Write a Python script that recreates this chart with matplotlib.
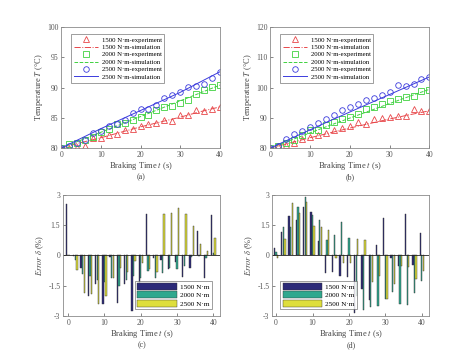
import matplotlib
matplotlib.use("Agg")
import matplotlib.pyplot as plt
import numpy as np

plt.rcParams['font.family'] = ['Liberation Serif', 'DejaVu Serif']
plt.rcParams['mathtext.fontset'] = 'stix'

# ---------------- data ----------------
t_exp = [0, 2, 4, 6, 8, 10, 12, 14, 16, 18, 20, 22, 24, 26, 28, 30, 32, 34, 36, 38, 40]
t_sim = [0, 5, 10, 15, 20, 25, 30, 35, 40]

# panel (a)
a_exp_1500 = [80.0, 80.0, 80.1, 80.4, 81.6, 81.7, 82.1, 82.4, 82.9, 83.1, 83.6, 84.0, 84.2, 84.7, 84.5, 85.5, 85.4, 86.3, 86.2, 86.4, 86.7]
a_exp_2000 = [80.0, 80.6, 80.8, 81.4, 81.8, 82.6, 83.1, 83.9, 84.2, 84.6, 85.1, 85.5, 86.3, 86.7, 86.9, 87.5, 88.0, 89.0, 89.6, 90.1, 90.4]
a_exp_2500 = [80.0, 80.3, 80.8, 81.4, 82.5, 82.8, 83.7, 83.9, 84.7, 85.8, 86.5, 86.4, 87.1, 88.3, 88.8, 89.3, 90.1, 90.2, 90.6, 91.5, 92.6]
a_sim_1500 = [80.0, 80.9, 81.7, 82.6, 83.5, 84.3, 85.1, 86.0, 86.8]
a_sim_2000 = [80.0, 81.3, 82.6, 83.9, 85.2, 86.5, 87.8, 89.1, 90.4]
a_sim_2500 = [80.0, 81.6, 83.2, 84.7, 86.2, 87.7, 89.2, 90.9, 92.6]

# panel (b)
b_exp_1500 = [80.0, 80.6, 81.0, 81.8, 82.9, 83.6, 84.2, 85.0, 85.8, 86.5, 87.4, 88.5, 88.0, 89.5, 89.8, 90.2, 90.6, 90.5, 93.0, 92.1, 92.2]
b_exp_2000 = [80.0, 80.7, 81.8, 82.6, 84.2, 85.8, 86.1, 87.7, 88.5, 89.7, 90.4, 91.2, 92.8, 93.6, 94.7, 95.4, 96.2, 96.9, 97.1, 98.7, 99.3]
b_exp_2500 = [80.0, 80.7, 82.9, 84.5, 85.6, 86.9, 88.3, 89.6, 91.0, 92.5, 93.6, 94.7, 95.8, 96.5, 97.5, 98.5, 100.7, 100.6, 101.0, 102.7, 103.5]
b_sim_1500 = [80.0, 81.7, 83.4, 85.0, 86.6, 88.1, 89.6, 91.0, 92.3]
b_sim_2000 = [80.0, 82.5, 85.0, 87.5, 89.9, 92.3, 94.7, 97.1, 99.4]
b_sim_2500 = [80.0, 83.0, 86.0, 89.0, 91.9, 94.8, 97.7, 100.6, 103.5]

# panel (c) errors
c_err_1500 = [2.55, -0.05, -0.6, -2.0, -1.4, -2.4, -0.1, -2.35, -1.4, -2.75, -1.4, 2.05, -0.15, -0.25, -0.65, -0.35, -1.05, -0.6, 1.2, -1.1, 2.0]
c_err_2000 = [0.0, -0.25, -0.9, -1.0, -1.2, -1.3, -1.1, -1.5, -1.2, -1.0, -1.1, -0.75, -1.1, -0.85, -0.6, -0.65, -0.5, -0.1, -0.05, -0.15, 0.1]
c_err_2500 = [0.0, -0.7, -1.85, -1.9, -2.4, -2.0, -1.1, -0.6, -0.8, -0.3, -0.4, -0.65, -0.8, 2.05, 2.1, 2.35, 2.05, 1.45, 0.55, 0.2, 0.85]

# panel (d) errors
d_err_1500 = [0.35, 1.15, 1.95, 1.75, 2.4, 2.15, 0.7, -0.85, -0.8, -1.0, -1.05, -2.85, -1.65, -2.2, 0.5, 1.85, -0.15, -0.5, 2.05, -0.45, 1.1]
d_err_2000 = [0.15, 1.4, 1.4, 2.4, 2.9, 2.0, 1.75, 0.75, 1.0, 1.65, 0.85, -2.0, -2.7, -2.55, -2.5, -2.15, -1.8, -2.4, -2.45, -1.85, -1.25]
d_err_2500 = [-0.15, 0.8, 2.6, 2.1, 2.65, 1.45, 1.4, 1.25, -0.15, -0.4, -0.4, 0.8, 0.75, -1.3, -1.0, -2.15, -1.4, -0.5, -0.55, -1.15, -0.75]

loads = ['1500 N·m', '2000 N·m', '2500 N·m']

# ---------------- style ----------------
FS = 5.5
red, green, blue = '#e8474a', '#3fd13f', '#3b3bdd'
bar_cols = ['#2c2a78', '#30a88e', '#dede3c']
frame_col = '#8a8a8a'

fig = plt.figure(figsize=(4.74, 3.55), dpi=100)

def style_axes(ax):
    for s in ax.spines.values():
        s.set_color(frame_col)
        s.set_linewidth(0.6)
    ax.tick_params(direction='in', length=2, width=0.5, labelsize=FS,
                   colors='#555555', pad=2, top=False, right=False)
    ax.xaxis.label.set_color('#444444')
    ax.yaxis.label.set_color('#444444')

def caption(ax, cap):
    ax.text(0.5, -0.21, cap, transform=ax.transAxes, ha='center', va='top',
            fontsize=FS + 0.3, color='#444444')

def temp_panel(rect, exps, sims, ylim, yticks, cap):
    ax = fig.add_axes(rect)
    cols = [red, green, blue]
    mks = ['^', 's', 'o']
    lss = ['-.', '--', '-']
    for i in range(3):
        ax.plot(t_exp, exps[i], linestyle='none', marker=mks[i], ms=4.0 if i else 4.4,
                mfc='none', mec=cols[i], mew=0.6, label=f'{loads[i]}-experiment')
        ax.plot(t_sim, sims[i], linestyle=lss[i], color=cols[i], lw=0.7,
                label=f'{loads[i]}-simulation')
    ax.set_xlim(0, 40)
    ax.set_ylim(*ylim)
    ax.set_xticks([0, 10, 20, 30, 40])
    ax.set_yticks(yticks)
    ax.set_xlabel('Braking Time $\\it{t}$ (s)', fontsize=FS + 0.5, labelpad=1.0)
    ax.set_ylabel('Temperature $\\it{T}$ (°C)', fontsize=FS + 0.5, labelpad=1.5)
    style_axes(ax)
    leg = ax.legend(loc='upper left', fontsize=FS - 0.6, frameon=True, fancybox=False,
                    edgecolor='#555555', handlelength=3.6, borderpad=0.4,
                    labelspacing=0.25, handletextpad=0.5, bbox_to_anchor=(0.04, 0.97))
    leg.get_frame().set_linewidth(0.5)
    caption(ax, cap)
    return ax

def err_panel(rect, errs, xlim, legloc, anchor, cap):
    ax = fig.add_axes(rect)
    x = np.array(t_exp, dtype=float)
    w = 0.36
    offs = [-0.44, 0.0, 0.44]
    for i in range(3):
        ax.bar(x + offs[i], errs[i], width=w, color=bar_cols[i], edgecolor='#333333',
               linewidth=0.3, label=loads[i])
    ax.axhline(0, color='#222222', lw=0.6)
    ax.set_xlim(*xlim)
    ax.set_ylim(-3, 3)
    ax.set_xticks([0, 10, 20, 30, 40])
    ax.set_yticks([-3, -1.5, 0, 1.5, 3])
    ax.set_yticklabels(['-3', '-1.5', '0', '1.5', '3'])
    ax.set_xlabel('Braking Time $\\it{t}$ (s)', fontsize=FS + 0.5, labelpad=1.0)
    ax.set_ylabel('$\\it{Error}$ $\\it{\\delta}$ (%)', fontsize=FS + 0.5, labelpad=1.5)
    style_axes(ax)
    leg = ax.legend(loc=legloc, bbox_to_anchor=anchor, fontsize=FS - 0.3, frameon=True,
                    fancybox=False, edgecolor='#555555', handlelength=5.5,
                    handleheight=1.1, borderpad=0.3, labelspacing=0.2,
                    handletextpad=0.4)
    leg.get_frame().set_linewidth(0.5)
    caption(ax, cap)
    return ax

temp_panel([0.129, 0.583, 0.335, 0.341],
           [a_exp_1500, a_exp_2000, a_exp_2500],
           [a_sim_1500, a_sim_2000, a_sim_2500],
           (80, 100), [80, 85, 90, 95, 100], '(a)')
temp_panel([0.570, 0.583, 0.336, 0.341],
           [b_exp_1500, b_exp_2000, b_exp_2500],
           [b_sim_1500, b_sim_2000, b_sim_2500],
           (80, 120), [80, 90, 100, 110, 120], '(b)')
err_panel([0.133, 0.110, 0.331, 0.341],
          [c_err_1500, c_err_2000, c_err_2500],
          (-1.4, 41.8), 'lower right', (0.97, 0.03), '(c)')
err_panel([0.574, 0.110, 0.332, 0.341],
          [d_err_1500, d_err_2000, d_err_2500],
          (-1.1, 42.1), 'lower left', (0.03, 0.03), '(d)')

fig.savefig('out.png', dpi=100)
